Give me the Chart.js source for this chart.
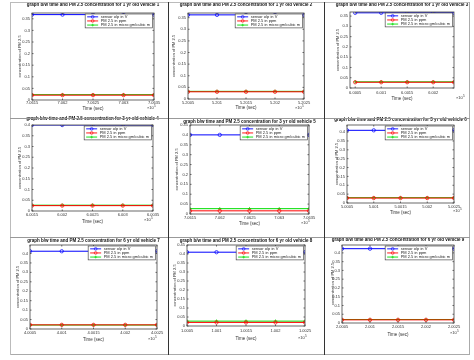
<!DOCTYPE html>
<html>
<head>
<meta charset="utf-8">
<script src="https://cdn.jsdelivr.net/npm/chart.js@4.4.1/dist/chart.umd.min.js"></script>
<style>
  html, body { margin: 0; padding: 0; background: #fff; }
  #sheet { position: relative; width: 474px; height: 360px; overflow: hidden; background: #fff; }
  #sheet canvas { position: absolute; }
  .rule { position: absolute; }
</style>
</head>
<body>
<div id="sheet"></div>
<script>
// --- values ---

const titles = [
    'graph b/w time and PM 2.5 concentration for 1 yr old vehicle 1',
    'graph b/w time and PM 2.5 concentration for 1 yr old vehicle 2',
    'graph b/w time and PM 2.5 concentration for 1 yr old vehicle 3',
    'graph b/w time and PM 2.5 concentration for 3 yr old vehicle 4',
    'graph b/w time and PM 2.5 concentration for 3 yr old vehicle 5',
    'graph b/w time and PM 2.5 concentration for 3 yr old vehicle 6',
    'graph b/w time and PM 2.5 concentration for 6 yr old vehicle 7',
    'graph b/w time and PM 2.5 concentration for 6 yr old vehicle 8',
    'graph b/w time and PM 2.5 concentration for 6 yr old vehicle 9'
];

const seriesNames = ['sensor o/p in V', 'PM 2.5 in ppm', 'PM 2.5 in micro gm/cubic m'];

// time axis, in units of 10^5 sec
const timeTicks = [
    [7.0615, 7.062, 7.0625, 7.063, 7.0635],
    [5.2005, 5.201, 5.2015, 5.202, 5.2025],
    [6.0005, 6.001, 6.0015, 6.002],
    [6.0015, 6.002, 6.0025, 6.003, 6.0035],
    [7.0615, 7.062, 7.0625, 7.063, 7.0635],
    [5.0005, 5.001, 5.0015, 5.002, 5.0025],
    [4.0005, 4.001, 4.0015, 4.002, 4.0025],
    [1.0005, 1.001, 1.0015, 1.002, 1.0025],
    [2.0005, 2.001, 2.0015, 2.002, 2.0025]
];
const timeLimits = [
    [7.0615, 7.0635], [5.2005, 5.2025], [6.0004, 6.0024],
    [6.0015, 6.0035], [7.0615, 7.0635], [5.0005, 5.0025],
    [4.0005, 4.0025], [1.0005, 1.0025], [2.0005, 2.0025]
];
const sampleTimes = [
    [7.0615, 7.062, 7.0625, 7.063, 7.0635],
    [5.2005, 5.201, 5.2015, 5.202, 5.2025],
    [6.0005, 6.001, 6.0015, 6.002, 6.0024],
    [6.0015, 6.002, 6.0025, 6.003, 6.0035],
    [7.0615, 7.062, 7.0625, 7.063, 7.0635],
    [5.0005, 5.001, 5.0015, 5.002, 5.0025],
    [4.0005, 4.001, 4.0015, 4.002, 4.0025],
    [1.0005, 1.001, 1.0015, 1.002, 1.0025],
    [2.0005, 2.001, 2.0015, 2.002, 2.0025]
];

// concentration axis
const concTicks = [
    [0, 0.05, 0.1, 0.15, 0.2, 0.25, 0.3, 0.35],
    [0, 0.05, 0.1, 0.15, 0.2, 0.25, 0.3, 0.35],
    [0, 0.05, 0.1, 0.15, 0.2, 0.25, 0.3, 0.35],
    [0, 0.05, 0.1, 0.15, 0.2, 0.25, 0.3, 0.35, 0.4],
    [0, 0.05, 0.1, 0.15, 0.2, 0.25, 0.3, 0.35, 0.4, 0.45],
    [0, 0.05, 0.1, 0.15, 0.2, 0.25, 0.3, 0.35, 0.4],
    [0, 0.05, 0.1, 0.15, 0.2, 0.25, 0.3, 0.35, 0.4],
    [0, 0.05, 0.1, 0.15, 0.2, 0.25, 0.3, 0.35, 0.4, 0.45],
    [0, 0.05, 0.1, 0.15, 0.2, 0.25, 0.3, 0.35, 0.4]
];
const concMax = [0.375, 0.37, 0.37, 0.4, 0.45, 0.44, 0.445, 0.45, 0.445];

const sensorVolts = [
    [0.368, 0.368, 0.368, 0.368, 0.368],
    [0.362, 0.362, 0.362, 0.362, 0.362],
    [0.366, 0.366, 0.366, 0.366, 0.366],
    [0.4, 0.4, 0.4, 0.4, 0.4],
    [0.4, 0.4, 0.4, 0.4, 0.4],
    [0.41, 0.41, 0.41, 0.41, 0.41],
    [0.412, 0.412, 0.412, 0.412, 0.412],
    [0.41, 0.41, 0.41, 0.41, 0.41],
    [0.424, 0.424, 0.424, 0.424, 0.424]
];
const pmPpm = [
    [0.021, 0.021, 0.021, 0.021, 0.021],
    [0.031, 0.031, 0.031, 0.031, 0.031],
    [0.028, 0.028, 0.028, 0.028, 0.028],
    [0.025, 0.025, 0.025, 0.025, 0.025],
    [0.016, 0.016, 0.016, 0.016, 0.016],
    [0.028, 0.028, 0.028, 0.028, 0.028],
    [0.022, 0.022, 0.022, 0.022, 0.022],
    [0.02, 0.02, 0.02, 0.02, 0.02],
    [0.018, 0.018, 0.018, 0.018, 0.018]
];
const pmMicro = [
    [0.023, 0.023, 0.023, 0.023, 0.023],
    [0.033, 0.033, 0.033, 0.033, 0.033],
    [0.03, 0.03, 0.03, 0.03, 0.03],
    [0.027, 0.027, 0.027, 0.027, 0.027],
    [0.027, 0.027, 0.027, 0.027, 0.027],
    [0.03, 0.03, 0.03, 0.03, 0.03],
    [0.021, 0.021, 0.021, 0.021, 0.021],
    [0.027, 0.027, 0.027, 0.027, 0.027],
    [0.02, 0.02, 0.02, 0.02, 0.02]
];

// --- page layout (pixels) ---

const cells = [
    [11, 2, 168, 118], [168, 2, 324, 118], [324, 2, 469, 118],
    [11, 118, 168, 237], [168, 118, 324, 237], [324, 118, 469, 237],
    [11, 237, 168, 354], [168, 237, 324, 354], [324, 237, 469, 354]
];
const plotBoxes = [
    [32, 13, 154, 100], [188, 13, 304, 99], [350, 12, 454, 88],
    [32, 125, 153, 211], [190, 125, 309, 214], [347, 125, 454, 203],
    [30, 245, 157, 329], [187, 245, 305, 326], [342, 245, 454, 323]
];
const titleY = [5, 5, 5, 119, 122, 120, 241, 241, 240];
const tickY = [103, 103, 93, 215, 218, 207, 333, 331, 327];
const xLabelY = [109, 108, 99, 222, 224, 213, 340, 339, 335];
const yLabelX = [20, 174, 338, 20, 177, 337, 18, 175, 333];
const expPos = [[147, 108], [295, 108], [456, 98], [144, 220], [301, 223], [453, 211], [148, 339], [298, 338], [450 , 333]];
const overhang = 4; // canvases reach a little above their cell so titles are not cut

const FONT = '"Liberation Sans", Arial, sans-serif';
Chart.defaults.font.family = FONT;

function fmt(v) {
    return String(parseFloat(v.toFixed(4)));
}

// MATLAB-ish decorations: boxed axes, inward ticks, title, exponent and legend
const matlabAxes = {
    id: 'matlabAxes',
    afterDatasetsDraw(chart, args, opts) {
        const { ctx, chartArea: a, scales: { x, y } } = chart;
        ctx.save();
        ctx.strokeStyle = '#444';
        ctx.lineWidth = 0.8;
        ctx.strokeRect(a.left, a.top, a.right - a.left, a.bottom - a.top);
        ctx.beginPath();
        x.ticks.forEach(t => {
            const px = x.getPixelForValue(t.value);
            ctx.moveTo(px, a.bottom); ctx.lineTo(px, a.bottom - 1.5);
            ctx.moveTo(px, a.top); ctx.lineTo(px, a.top + 1.5);
        });
        y.ticks.forEach(t => {
            const py = y.getPixelForValue(t.value);
            ctx.moveTo(a.left, py); ctx.lineTo(a.left + 1.5, py);
            ctx.moveTo(a.right, py); ctx.lineTo(a.right - 1.5, py);
        });
        ctx.stroke();
        ctx.restore();
    },
    afterDraw(chart, args, opts) {
        const { ctx, chartArea: a } = chart;
        ctx.save();

        // title
        ctx.fillStyle = '#111';
        ctx.font = 'bold 4.5px ' + FONT;
        ctx.textAlign = 'center';
        ctx.textBaseline = 'middle';
        ctx.fillText(opts.title, (a.left + a.right) / 2, opts.titleY);

        // x10^5
        ctx.fillStyle = '#333';
        ctx.textAlign = 'left';
        ctx.font = '4px ' + FONT;
        ctx.fillText('\u00d710', opts.exp[0], opts.exp[1]);
        const w = ctx.measureText('\u00d710').width;
        ctx.font = '3px ' + FONT;
        ctx.fillText('5', opts.exp[0] + w + 0.3, opts.exp[1] - 1.5);

        // legend box in the top-right corner of the axes
        const ds = chart.data.datasets;
        ctx.font = '4px ' + FONT;
        const textW = Math.max(...ds.map(d => ctx.measureText(d.label).width));
        const rowH = 4.1, sample = 11;
        const bw = sample + 5 + textW + 2, bh = ds.length * rowH + 1.6;
        const lx = a.right - 1.5 - bw, ly = a.top + 1;
        ctx.fillStyle = '#fff';
        ctx.fillRect(lx, ly, bw, bh);
        ctx.strokeStyle = '#333';
        ctx.lineWidth = 0.6;
        ctx.strokeRect(lx, ly, bw, bh);
        ds.forEach((d, i) => {
            const cy = ly + 0.8 + rowH * (i + 0.5);
            ctx.strokeStyle = d.borderColor;
            ctx.lineWidth = 0.9;
            ctx.beginPath();
            ctx.moveTo(lx + 2, cy);
            ctx.lineTo(lx + 2 + sample, cy);
            ctx.stroke();
            ctx.fillStyle = 'rgba(0,0,0,0)';
            ctx.lineWidth = 0.6;
            Chart.helpers.drawPoint(ctx, { pointStyle: d.pointStyle, radius: 1.4, borderWidth: 0.6, rotation: 0 }, lx + 2 + sample / 2, cy);
            ctx.fillStyle = '#222';
            ctx.textAlign = 'left';
            ctx.textBaseline = 'middle';
            ctx.fillText(d.label, lx + sample + 4.5, cy);
        });
        ctx.restore();
    }
};

function series(times, values) {
    return times.map((t, k) => ({ x: t, y: values[k] }));
}

const sheet = document.getElementById('sheet');

cells.forEach((c, i) => {
    const p = plotBoxes[i];
    const top = c[1] - overhang;
    const canvas = document.createElement('canvas');
    canvas.width = c[2] - c[0];
    canvas.height = c[3] - top;
    canvas.style.left = c[0] + 'px';
    canvas.style.top = top + 'px';
    sheet.appendChild(canvas);

    const lineStyle = (color, marker) => ({
        borderColor: color,
        borderWidth: 1,
        pointStyle: marker,
        pointRadius: 1.7,
        pointBorderWidth: 0.7,
        pointBorderColor: color,
        pointBackgroundColor: 'rgba(0,0,0,0)',
        tension: 0
    });

    new Chart(canvas, {
        type: 'line',
        data: {
            datasets: [
                { label: seriesNames[0], data: series(sampleTimes[i], sensorVolts[i]), ...lineStyle('#0000ff', 'circle') },
                { label: seriesNames[1], data: series(sampleTimes[i], pmPpm[i]), ...lineStyle('#ff0000', 'circle') },
                { label: seriesNames[2], data: series(sampleTimes[i], pmMicro[i]), ...lineStyle('#00dd00', 'cross') }
            ]
        },
        options: {
            responsive: false,
            animation: false,
            devicePixelRatio: 1,
            layout: { padding: { left: 0, top: p[1] - top, right: c[2] - p[2], bottom: 0 } },
            plugins: {
                legend: { display: false },
                tooltip: { enabled: false },
                matlabAxes: { title: titles[i], titleY: titleY[i] - top, exp: [expPos[i][0] - c[0], expPos[i][1] - top] }
            },
            scales: {
                x: {
                    type: 'linear',
                    min: timeLimits[i][0],
                    max: timeLimits[i][1],
                    grid: { display: false, drawTicks: false },
                    border: { display: false },
                    ticks: { font: { size: 4 }, color: '#333', padding: tickY[i] - p[3] - 2.4, maxRotation: 0, autoSkip: false, callback: v => fmt(v) },
                    afterBuildTicks: s => { s.ticks = timeTicks[i].map(v => ({ value: v })); },
                    afterFit: s => { s.height = c[3] - p[3]; },
                    title: { display: true, text: 'Time (sec)', color: '#333', font: { size: 4.5 },
                             padding: { top: 0, bottom: c[3] - xLabelY[i] - 2.7 } }
                },
                y: {
                    min: 0,
                    max: concMax[i],
                    grid: { display: false, drawTicks: false },
                    border: { display: false },
                    ticks: { font: { size: 4 }, color: '#333', padding: 2, autoSkip: false, callback: v => fmt(v) },
                    afterBuildTicks: s => { s.ticks = concTicks[i].map(v => ({ value: v })); },
                    afterFit: s => { s.width = p[0] - c[0]; },
                    title: { display: true, text: 'concentration of PM 2.5', color: '#333', font: { size: 4 },
                             padding: { top: yLabelX[i] - c[0] - 2.4, bottom: 0 } }
                }
            }
        },
        plugins: [matlabAxes]
    });
});

// table rules around the nine figures
function rule(left, top, width, height, color) {
    const d = document.createElement('div');
    d.className = 'rule';
    Object.assign(d.style, { left: left + 'px', top: top + 'px', width: width + 'px', height: height + 'px', background: color });
    sheet.appendChild(d);
}
rule(10, 2, 460, 1, '#bbb');
rule(10, 354, 460, 1, '#aaa');
rule(10, 2, 1, 353, '#bbb');
rule(469, 2, 1, 353, '#aaa');
rule(10, 118, 460, 1, '#999');
rule(10, 237, 460, 1, '#999');
rule(168, 2, 1, 353, '#333');
rule(324, 2, 1, 353, '#333');
</script>
</body>
</html>
